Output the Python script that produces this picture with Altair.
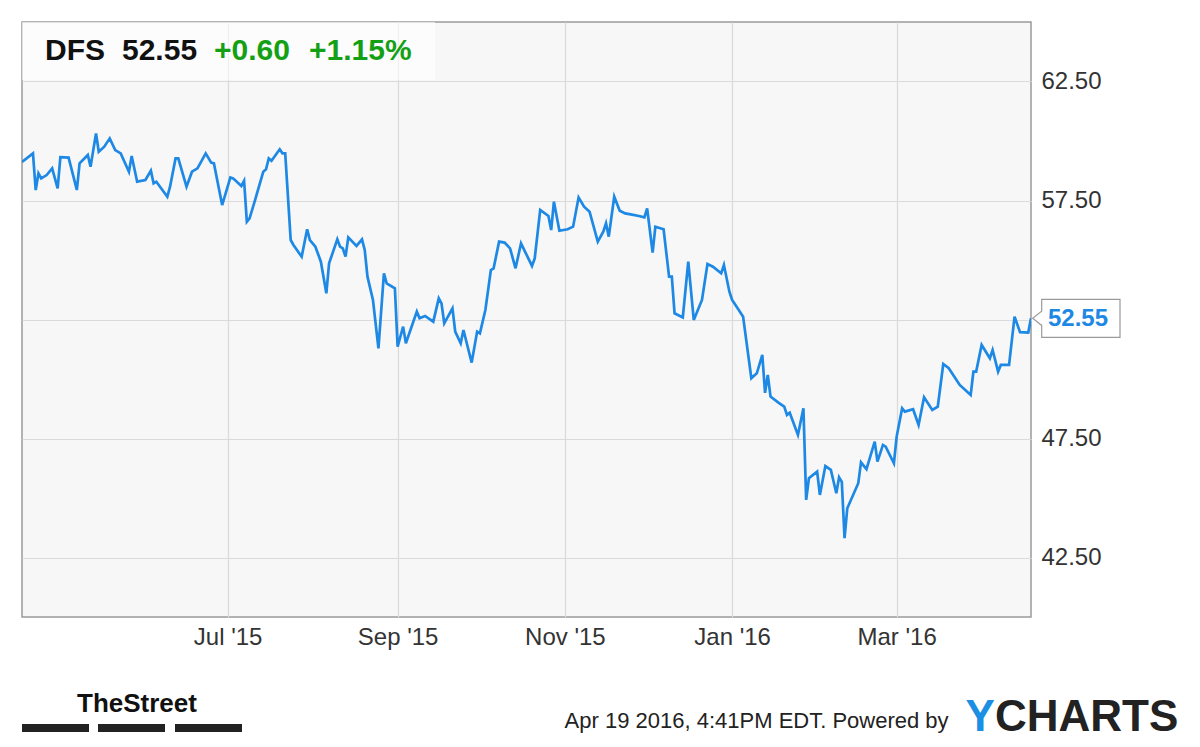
import altair as alt
import pandas as pd

# ---------------- data ----------------
ticker = "DFS"
dates = [
    "2015-04-17", "2015-04-21", "2015-04-22", "2015-04-23", "2015-04-24", "2015-04-26", "2015-04-28", "2015-04-30",
    "2015-05-01", "2015-05-04", "2015-05-07", "2015-05-08", "2015-05-11", "2015-05-12", "2015-05-14", "2015-05-15",
    "2015-05-17", "2015-05-19", "2015-05-21", "2015-05-23", "2015-05-26", "2015-05-27", "2015-05-29",
    "2015-06-01", "2015-06-03", "2015-06-04", "2015-06-05", "2015-06-09", "2015-06-10", "2015-06-12", "2015-06-13",
    "2015-06-16", "2015-06-18", "2015-06-20", "2015-06-23", "2015-06-25", "2015-06-26", "2015-06-29",
    "2015-07-02", "2015-07-03", "2015-07-06", "2015-07-07", "2015-07-08", "2015-07-09", "2015-07-11", "2015-07-14",
    "2015-07-15", "2015-07-16", "2015-07-17", "2015-07-20", "2015-07-21", "2015-07-22", "2015-07-24", "2015-07-25",
    "2015-07-28", "2015-07-30", "2015-07-31",
    "2015-08-02", "2015-08-04", "2015-08-06", "2015-08-07", "2015-08-10", "2015-08-11", "2015-08-12", "2015-08-13",
    "2015-08-14", "2015-08-17", "2015-08-19", "2015-08-20", "2015-08-21", "2015-08-23", "2015-08-25", "2015-08-27",
    "2015-08-28", "2015-08-31",
    "2015-09-01", "2015-09-03", "2015-09-04", "2015-09-08", "2015-09-09", "2015-09-11", "2015-09-14", "2015-09-16",
    "2015-09-17", "2015-09-18", "2015-09-21", "2015-09-22", "2015-09-24", "2015-09-25", "2015-09-28", "2015-09-30",
    "2015-10-01", "2015-10-03", "2015-10-05", "2015-10-06", "2015-10-08", "2015-10-10", "2015-10-12", "2015-10-14",
    "2015-10-16", "2015-10-20", "2015-10-21", "2015-10-23", "2015-10-26", "2015-10-27", "2015-10-28", "2015-10-30",
    "2015-11-02", "2015-11-04", "2015-11-06", "2015-11-08", "2015-11-10", "2015-11-13", "2015-11-15", "2015-11-16",
    "2015-11-17", "2015-11-19", "2015-11-21", "2015-11-23", "2015-11-25", "2015-11-28", "2015-11-30",
    "2015-12-01", "2015-12-03", "2015-12-04", "2015-12-07", "2015-12-09", "2015-12-10", "2015-12-11", "2015-12-14",
    "2015-12-16", "2015-12-18", "2015-12-21", "2015-12-23", "2015-12-25", "2015-12-28", "2015-12-29", "2015-12-31",
    "2016-01-01", "2016-01-03", "2016-01-05", "2016-01-08", "2016-01-10", "2016-01-12", "2016-01-13", "2016-01-14",
    "2016-01-15", "2016-01-18", "2016-01-20", "2016-01-21", "2016-01-22", "2016-01-25", "2016-01-27", "2016-01-28",
    "2016-01-29",
    "2016-02-01", "2016-02-02", "2016-02-04", "2016-02-06", "2016-02-08", "2016-02-09", "2016-02-10", "2016-02-11",
    "2016-02-12", "2016-02-16", "2016-02-17", "2016-02-19", "2016-02-22", "2016-02-23", "2016-02-25", "2016-02-26",
    "2016-02-29",
    "2016-03-01", "2016-03-03", "2016-03-04", "2016-03-07", "2016-03-09", "2016-03-11", "2016-03-14", "2016-03-16",
    "2016-03-18", "2016-03-20", "2016-03-24", "2016-03-28", "2016-03-29", "2016-03-30",
    "2016-04-01", "2016-04-04", "2016-04-05", "2016-04-07", "2016-04-08", "2016-04-11", "2016-04-13", "2016-04-15",
    "2016-04-18", "2016-04-19",
]
closes = [
    59.12, 59.48, 57.94, 58.64, 58.43, 58.57, 58.85, 58.01,
    59.32, 59.30, 57.94, 59.06, 59.41, 58.92, 60.32, 59.55,
    59.76, 60.11, 59.62, 59.48, 58.71, 59.37, 58.29,
    58.36, 58.75, 58.22, 58.29, 57.66, 58.08, 59.27, 59.27,
    58.08, 58.71, 58.85, 59.48, 59.09, 59.06, 57.31,
    58.47, 58.43, 58.11, 58.33, 56.61, 56.75, 57.52, 58.71,
    58.81, 59.27, 59.17, 59.65, 59.48, 59.48, 55.84, 55.63,
    55.14, 56.29, 55.84,
    55.56, 54.93, 53.60, 54.86, 55.87, 55.56, 55.49, 55.14,
    55.95, 55.59, 55.87, 55.42, 54.30, 53.32, 51.29, 54.44,
    54.02, 53.81,
    51.36, 52.20, 51.50, 52.83, 52.55, 52.65, 52.41, 53.39,
    53.18, 52.34, 52.97, 51.99, 51.50, 52.06, 50.69, 51.99,
    51.92, 52.90, 54.58, 54.65, 55.77, 55.73, 55.49, 54.65,
    55.70, 54.75, 55.07, 57.10, 56.85, 56.26, 57.45, 56.23,
    56.29, 56.40, 57.63, 57.24, 57.03, 55.77, 56.19, 56.54,
    55.98, 57.66, 57.07, 56.96, 56.92, 56.85, 56.79,
    57.17, 55.31, 56.40, 56.29, 54.30, 54.30, 52.76, 52.59,
    54.93, 52.48, 53.32, 54.83, 54.72, 54.44, 54.79, 53.67,
    53.32, 52.97, 52.62, 50.03, 50.24, 51.01, 49.42, 50.17,
    49.26, 49.00, 48.84, 48.49, 48.58, 47.65, 48.77, 44.92,
    45.83,
    46.11, 45.13, 46.34, 46.18, 45.20, 45.87, 45.68, 43.31,
    44.57, 45.62, 46.50, 46.21, 47.37, 46.53, 47.23, 47.16,
    46.46,
    47.58, 48.77, 48.63, 48.73, 48.07, 49.23, 48.70, 48.84,
    50.63, 50.45, 49.75, 49.33, 50.31, 50.31,
    51.43, 50.87, 51.22, 50.31, 50.59, 50.59, 52.62, 51.97,
    51.95, 52.55,
]
x_tick_dates = ["2015-07-01", "2015-09-01", "2015-11-01", "2016-01-01", "2016-03-01"]
y_ticks = [42.5, 47.5, 52.5, 57.5, 62.5]
x_domain = ["2015-04-17", "2016-04-19"]
y_domain = [40, 65]
logo_text = "TheStreet"
footer_text = "Apr 19 2016, 4:41PM EDT.  Powered by"
brand_first = "Y"
brand_rest = "CHARTS"

# ---------------- styling ----------------
FONT = "Liberation Sans"
BLUE = "#1e88e5"
GREEN = "#14a014"
GRID = "#dadada"
BORDER = "#9a9a9a"
W, H = 1009, 595


def dt(s):
    y, m, d = map(int, s.split("-"))
    return alt.DateTime(year=y, month=m, date=d, utc=True)


df = pd.DataFrame({"date": dates, "close": closes})
one = pd.DataFrame({"k": [0]})

last = closes[-1]
prev = closes[-2]
chg = last - prev
pct = chg / prev * 100
cdf = pd.DataFrame({"close": [last], "label": [f"{last:.2f}"]})

line = alt.Chart(df).mark_line(color=BLUE, strokeWidth=2.7, clip=True).encode(
    x=alt.X(
        "date:T",
        title=None,
        scale=alt.Scale(type="utc", domain=[dt(x_domain[0]), dt(x_domain[1])], nice=False),
        axis=alt.Axis(
            values=[dt(s) for s in x_tick_dates],
            labelExpr="utcFormat(datum.value, \"%b '%y\")",
            domain=False,
            ticks=False,
            labelPadding=8,
            labelFontSize=24,
            labelColor="#333333",
            labelFont=FONT,
            labelFlush=False,
            grid=True,
            gridColor=GRID,
            gridWidth=1.2,
        ),
    ),
    y=alt.Y(
        "close:Q",
        title=None,
        scale=alt.Scale(domain=y_domain, nice=False, zero=False),
        axis=alt.Axis(
            orient="right",
            values=y_ticks,
            # the label under the last-value callout is hidden by the callout box
            labelExpr=f"abs(datum.value - {last}) < 1 ? '' : format(datum.value, '.2f')",
            domain=False,
            ticks=False,
            labelPadding=10,
            labelFontSize=24,
            labelColor="#333333",
            labelFont=FONT,
            grid=True,
            gridColor=GRID,
            gridWidth=1.2,
        ),
    ),
)


def txt(text, x, y, size, color, weight="normal", font=FONT, align="left"):
    return alt.Chart(one).mark_text(
        text=text, align=align, baseline="alphabetic", fontSize=size,
        fontWeight=weight, font=font, color=color,
    ).encode(x=alt.value(x), y=alt.value(y))


def box(x1, x2, y1, y2, fill, opacity=1.0):
    return alt.Chart(one).mark_rect(fill=fill, opacity=opacity).encode(
        x=alt.value(x1), x2=alt.value(x2), y=alt.value(y1), y2=alt.value(y2)
    )


header_bg = box(0, 413, 0, 58, "#ffffff", 0.6)
h1 = txt(ticker, 23, 38, 30, "#111111", "bold")
h2 = txt(f"{last:.2f}", 100, 38, 30, "#111111", "bold")
h3 = txt(f"{chg:+.2f}", 192, 38, 30, GREEN, "bold")
h4 = txt(f"{pct:+.2f}%", 287, 38, 30, GREEN, "bold")

# callout for the last value
call_box = alt.Chart(cdf).mark_rect(
    fill="white", stroke=BORDER, strokeWidth=1.2, yOffset=-19, y2Offset=19
).encode(x=alt.value(1019.7), x2=alt.value(1098), y=alt.Y("close:Q", title=None), y2=alt.Y2("close"))
call_cover = alt.Chart(cdf).mark_point(
    shape="M 0.15 -0.8 L -1 0 L 0.15 0.8 Z", filled=True, fill="white", opacity=1, size=324, strokeWidth=0
).encode(x=alt.value(1019.7), y=alt.Y("close:Q", title=None))
call_chev = alt.Chart(cdf).mark_point(
    shape="M 0 -0.8 L -1 0 L 0 0.8", filled=False, stroke=BORDER, strokeWidth=1.2, opacity=1, size=324
).encode(x=alt.value(1019.7), y=alt.Y("close:Q", title=None))
call_text = alt.Chart(cdf).mark_text(
    align="left", baseline="middle", fontSize=24, fontWeight="bold", color=BLUE, font=FONT, dy=1
).encode(x=alt.value(1026), y=alt.Y("close:Q", title=None), text="label:N")

# footer
logo = txt(logo_text, 55, 690, 26, "#111111", "bold")
bar1 = box(0, 67, 702, 710, "#222222")
bar2 = box(76, 143, 702, 710, "#222222")
bar3 = box(153, 220, 702, 710, "#222222")
foot = txt(footer_text, 542.6, 706, 22, "#222222")
brand1 = txt(brand_first, 943.6, 708.5, 44, "#1a8fe3", "bold")
brand2 = txt(brand_rest, 973, 708.5, 44, "#222222", "bold")

chart = alt.layer(
    line, header_bg, h1, h2, h3, h4,
    call_box, call_cover, call_chev, call_text,
    logo, bar1, bar2, bar3, foot, brand1, brand2,
).properties(
    width=W, height=H,
    padding={"left": 14, "top": 14, "right": 10, "bottom": 6},
).configure_view(
    fill="#f7f7f7", stroke=BORDER, strokeWidth=1.5
)

chart.save("out.html", embed_options={"renderer": "svg", "actions": False})
